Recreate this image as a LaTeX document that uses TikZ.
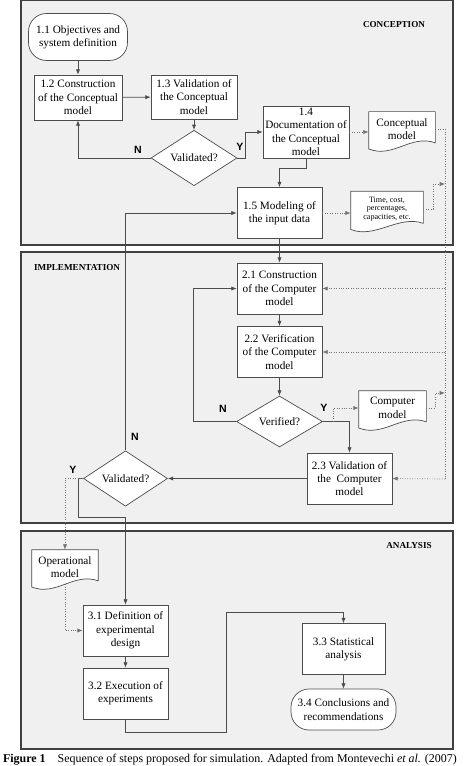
\documentclass[tikz,border=0pt]{standalone}
\usepackage{fontspec}
\setmainfont{Liberation Serif}
\newfontfamily\yesnofont{Liberation Sans}
\usetikzlibrary{shapes.geometric,arrows.meta,backgrounds}

\newcommand\docoutline[1]{%
  \draw[docline] (#1.north west) -- (#1.north east) -- ([yshift=2pt]#1.south east)
    .. controls ([xshift=-14pt,yshift=7pt]#1.south east) and ([xshift=14pt,yshift=-7pt]#1.south west)
    .. ([yshift=-1.5pt]#1.south west) -- cycle;}

\begin{document}
\begin{tikzpicture}
  [x=0.02cm,y=-0.02cm,
   every node/.style={font=\fontsize{6.4}{7.6}\selectfont,align=center,inner sep=1pt},
   box/.style={rectangle,draw=black!70,fill=white,minimum width=1.7cm,minimum height=1.02cm},
   term/.style={rectangle,rounded corners=0.36cm,draw=black!70,fill=white},
   decision/.style={diamond,draw=black!70,fill=white,minimum width=1.72cm,minimum height=1.02cm,inner sep=0pt},
   doc/.style={rectangle,minimum width=1.32cm,minimum height=0.68cm},
   docline/.style={draw=black!70,fill=white},
   panel/.style={draw=black!75,line width=0.85pt,fill=black!6},
   phase/.style={font=\fontsize{5.2}{6}\selectfont\bfseries},
   yn/.style={font=\fontsize{6}{7}\selectfont\yesnofont\bfseries},
   arr/.style={draw=black!70,-{Latex[length=3pt,width=2.4pt]}},
   dotline/.style={draw=black!55,densely dotted},
   dotarr/.style={dotline,-{Latex[length=3pt,width=2.4pt]}}]
  \useasboundingbox (0,0) rectangle (474,766);

  \node[phase] (conc) at (394,25) {CONCEPTION};
  \node[phase,anchor=west] (impl) at (32,268) {IMPLEMENTATION};
  \node[phase] (anal) at (409,546) {ANALYSIS};

  \node[term,minimum width=1.98cm,minimum height=0.94cm] (s11) at (78,37) {1.1 Objectives and\\system definition};
  \node[box,minimum width=1.76cm,minimum height=0.9cm] (s12) at (78,97.5) {1.2 Construction\\of the Conceptual\\model};
  \node[box,minimum width=1.72cm,minimum height=0.88cm] (s13) at (194,97) {1.3 Validation of\\the Conceptual\\model};
  \node[decision] (d1) at (194,158) {Validated?};
  \node[box,minimum width=1.72cm,minimum height=1.04cm] (s14) at (306,132) {1.4\\Documentation of\\the Conceptual\\model};
  \node[doc] (docA) at (402,129) {Conceptual\\model};
  \node[box] (s15) at (279.5,213) {1.5 Modeling of\\the input data};
  \node[doc,minimum width=1.44cm,minimum height=0.7cm,font=\fontsize{4.6}{4.9}\selectfont] (docB) at (387,209) {Time, cost,\\percentages,\\capacities, etc.};

  \node[box] (s21) at (279.5,288.5) {2.1 Construction\\of the Computer\\model};
  \node[box] (s22) at (279.5,352) {2.2 Verification\\of the Computer\\model};
  \node[decision] (d2) at (279.5,421.5) {Verified?};
  \node[doc,minimum width=1.34cm] (docC) at (392.5,408) {Computer\\model};
  \node[box] (s23) at (349.5,478.5) {2.3 Validation of\\the~ Computer\\model};
  \node[decision,minimum width=1.68cm] (d3) at (125.5,478.5) {Validated?};

  \node[doc] (docD) at (65,567) {Operational\\model};
  \node[box] (s31) at (125.5,630.5) {3.1 Definition of\\experimental\\design};
  \node[box] (s32) at (125.5,693.5) {3.2 Execution of\\experiments};
  \node[box,minimum width=1.66cm] (s33) at (343.5,649) {3.3 Statistical\\analysis};
  \node[term,minimum width=2.1cm,minimum height=0.82cm] (s34) at (343.5,709.5) {3.4 Conclusions and\\recommendations};

  \node[anchor=base west,font=\fontsize{6.8}{8}\selectfont] (cap) at (1,762)
    {\textbf{Figure 1}\quad Sequence of steps proposed for simulation. Adapted from Montevechi \textit{et al.} (2007)};

  \coordinate (busB) at (445,184);
  \coordinate (busC) at (445,393);
  \coordinate (busbot) at (445,479);
  \coordinate (r1) at (226,612);

  \draw[arr] (s11) -- (s12);
  \draw[arr] (s12) -- (s13);
  \draw[arr] (s13) -- (d1);
  \draw[arr] (d1.west) -| (s12.south);
  \draw[arr] (d1.east) -- ++(8,0) |- (s14.west);
  \draw[dotarr] (s14.east) -- (s14.east -| docA.west);
  \draw[arr] (s14.south) -- ++(0,10) -| (s15.north);
  \draw[dotarr] (s15.east) -- (s15.east -| docB.west);
  \draw[arr] (s15) -- (s21);

  \draw[dotline] (docA.east) -| (busbot);
  \draw[dotarr] (docB.east) -- ++(10,0) |- (busB);
  \draw[dotarr] (docC.east) -- ++(9,0) |- (busC);
  \draw[dotarr] (s21.east -| busbot) -- (s21.east);
  \draw[dotarr] (s22.east -| busbot) -- (s22.east);
  \draw[dotarr] (busbot) -- (s23.east);

  \draw[arr] (s21) -- (s22);
  \draw[arr] (s22) -- (d2);
  \draw[arr] (d2.west) -- ++(-43,0) |- (s21.west);
  \draw[arr] (d2.east) -| (s23.north);
  \draw[dotarr] ([xshift=5.7pt]d2.east) |- (docC.west);
  \draw[arr] (s23) -- (d3);
  \draw[arr] (d3.north) |- (s15.west);
  \draw[arr] (d3.west) -- ++(-5,0) -- ++(0,38.5) -| (s31.north);
  \draw[dotarr] (d3.west) -| (docD.north);
  \draw[dotarr] (docD.south) |- (s31.west);

  \draw[arr] (s31) -- (s32);
  \draw[arr] (s32.south) -- ++(0,13) -| (r1) -| (s33.north);
  \draw[arr] (s33) -- (s34);

  \node[yn] (n1) at (138,150) {N};
  \node[yn] (y1) at (240,147) {Y};
  \node[yn] (n2) at (223,409) {N};
  \node[yn] (y2) at (324,408) {Y};
  \node[yn] (n3) at (135,437) {N};
  \node[yn] (y3) at (73,470) {Y};

  \begin{scope}[on background layer]
    \draw[panel] (21,0.5) rectangle (453,245);
    \draw[panel] (21,252) rectangle (453,523);
    \draw[panel] (21,531) rectangle (453,749);
    \docoutline{docA}
    \docoutline{docB}
    \docoutline{docC}
    \docoutline{docD}
  \end{scope}
\end{tikzpicture}
\end{document}
